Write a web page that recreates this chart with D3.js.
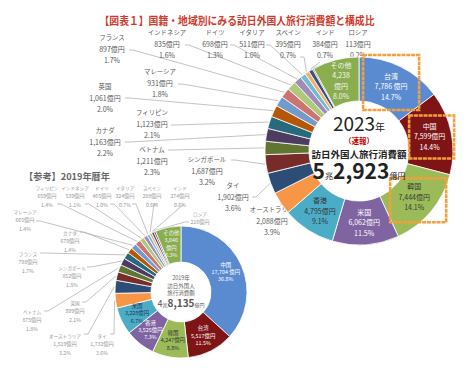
<!DOCTYPE html>
<html lang="ja">
<head>
<meta charset="UTF-8">
<title>国籍・地域別にみる訪日外国人旅行消費額と構成比</title>
<script src="https://cdn.jsdelivr.net/npm/d3@7"></script>
<style>
    body { margin: 0; background: #fff; }
    svg { display: block; font-family: "Noto Sans CJK JP", "Noto Sans", sans-serif; }
    .lead { fill: none; stroke: #a9a9a9; stroke-width: 0.7; }
    .slice { stroke: #fff; stroke-width: 0.8; }
</style>
</head>
<body>
<svg width="474" height="368"></svg>
<script>
// 2023年（速報）
var names2023 = ["台湾","中国","韓国","米国","香港","オーストラリア","タイ","シンガポール","ベトナム","カナダ","フィリピン","英国","マレーシア","フランス","インドネシア","ドイツ","イタリア","スペイン","インド","ロシア","その他"];
var values2023 = [7786,7599,7444,6062,4795,2088,1902,1687,1211,1163,1123,1061,931,897,835,698,511,395,384,113,4238];
var pct2023 = [14.7,14.4,14.1,11.5,9.1,3.9,3.6,3.2,2.3,2.2,2.1,2.0,1.8,1.7,1.6,1.3,1.0,0.7,0.7,0.2,8.0];
var total2023 = 52923;

// 2019年暦年
var names2019 = ["中国","台湾","韓国","香港","米国","タイ","オーストラリア","英国","ベトナム","シンガポール","フランス","カナダ","マレーシア","フィリピン","インドネシア","ドイツ","イタリア","スペイン","インド","ロシア","その他"];
var values2019 = [17704,5517,4247,3525,3228,1732,1519,999,875,852,798,670,665,659,539,465,324,288,274,216,3040];
var pct2019 = [36.8,11.5,8.8,7.3,6.7,3.6,3.2,2.1,1.8,1.8,1.7,1.4,1.4,1.4,1.1,1.0,0.7,0.6,0.6,0.5,6.3];
var total2019 = 48135;

var palette = ["#5a8ad0","#7e1416","#9bbb59","#8064a2","#4bacc6","#f79646","#2c4d75","#772c2a","#5f7530","#4d3b62","#276a7c","#b65708","#729aca","#cd7371","#afc97a","#a18cb8","#6fbdd1","#f9ab6b","#34557f","#9f3b38"];
var otherColor = "#8aae4e";

var svg = d3.select("svg");
var fmt = d3.format(",");

function donut(cfg) {
    var data = cfg.names.map(function(n, i) {
        return {name: n, value: cfg.values[i], pct: cfg.pct[i]};
    });
    var arcs = d3.pie().sort(null).value(function(d) { return d.value; })(data);
    var arc = d3.arc().innerRadius(cfg.r0).outerRadius(cfg.r1);
    var lblArc = d3.arc().innerRadius(cfg.rl).outerRadius(cfg.rl);
    var edge = d3.arc().innerRadius(cfg.r1 + 1).outerRadius(cfg.r1 + 1);
    var g = svg.append("g");

    // outside labels with leader lines (drawn first, ring goes on top)
    cfg.outside.forEach(function(p) {
        var a = arcs[p.i], e = edge.centroid(a);
        var ex = cfg.cx + e[0], ey = cfg.cy + e[1];
        var dir = ex > p.sx ? 1 : -1;
        g.append("polyline").attr("class", "lead")
            .attr("points", [[p.sx, p.sy], [p.sx + dir * (p.el == null ? 4 : p.el), p.sy], [ex, ey]].join(" "));
        var lines = [a.data.name, fmt(a.data.value) + "億円", a.data.pct.toFixed(1) + "%"];
        lines.forEach(function(s, k) {
            g.append("text")
                .attr("x", p.x).attr("y", p.y + k * cfg.gap)
                .attr("dy", "0.35em")
                .attr("text-anchor", "middle")
                .attr("font-size", k == 0 ? cfg.fs - 0.6 : cfg.fs)
                .attr("fill", cfg.lblColor)
                .text(s);
        });
    });

    var pg = g.append("g").attr("transform", "translate(" + cfg.cx + "," + cfg.cy + ")");
    pg.selectAll("path").data(arcs).enter().append("path")
        .attr("class", "slice")
        .attr("d", arc)
        .attr("fill", function(d) { return d.data.name == "その他" ? otherColor : palette[d.index]; });

    cfg.inside.forEach(function(p) {
        var a = arcs[p.i], c = lblArc.centroid(a);
        var v = fmt(a.data.value);
        var lines = a.data.name == "その他"
            ? [a.data.name, v, "億円", a.data.pct.toFixed(1) + "%"]
            : [a.data.name, v + (p.sp ? " 億円" : "億円"), a.data.pct.toFixed(1) + "%"];
        var off = (lines.length - 1) / 2;
        lines.forEach(function(s, k) {
            pg.append("text")
                .attr("x", c[0]).attr("y", c[1] + (k - off) * cfg.igap)
                .attr("dy", "0.35em")
                .attr("text-anchor", "middle")
                .attr("font-size", cfg.ifs)
                .attr("fill", p.fill)
                .text(s);
        });
    });

    (cfg.boxes || []).forEach(function(b) {
        var c = lblArc.centroid(arcs[b.i]);
        pg.append("rect")
            .attr("x", c[0] + b.dx - b.w / 2).attr("y", c[1] + b.dy - b.h / 2)
            .attr("width", b.w).attr("height", b.h)
            .attr("fill", "none").attr("stroke", "#f2a03d")
            .attr("stroke-width", 2.6).attr("stroke-dasharray", "4,0.8");
    });
    return pg;
}

// title
svg.append("text").attr("x", 237).attr("y", 25).attr("text-anchor", "middle")
    .attr("font-size", 11).attr("font-weight", "bold").attr("fill", "#cf3a2c")
    .attr("textLength", 275).attr("lengthAdjust", "spacingAndGlyphs")
    .text("【図表１】国籍・地域別にみる訪日外国人旅行消費額と構成比");

svg.append("text").attr("x", 67).attr("y", 180).attr("text-anchor", "middle")
    .attr("font-size", 9.5).attr("font-weight", "bold").attr("fill", "#666")
    .attr("textLength", 86).attr("lengthAdjust", "spacingAndGlyphs")
    .text("【参考】2019年暦年");

// 2019 donut
var small = donut({
    names: names2019, values: values2019, pct: pct2019,
    cx: 181, cy: 292, r0: 30, r1: 66, rl: 49,
    fs: 5.2, gap: 8.5, lblColor: "#959595", ifs: 5.4, igap: 7.3,
    outside: [
        {i: 5, x: 102, y: 336, sx: 110, sy: 334},
        {i: 6, x: 65, y: 336, sx: 84, sy: 334},
        {i: 7, x: 75, y: 303, sx: 82, sy: 302},
        {i: 8, x: 32, y: 312, sx: 44, sy: 311},
        {i: 9, x: 72, y: 268, sx: 87, sy: 267},
        {i: 10, x: 28, y: 254, sx: 40, sy: 253},
        {i: 11, x: 70, y: 233, sx: 80, sy: 232},
        {i: 12, x: 25, y: 212, sx: 36, sy: 221},
        {i: 13, x: 47, y: 188, sx: 57, sy: 204},
        {i: 14, x: 75, y: 188, sx: 85, sy: 204},
        {i: 15, x: 102, y: 188, sx: 110, sy: 204},
        {i: 16, x: 125, y: 188, sx: 132, sy: 204},
        {i: 17, x: 152, y: 188, sx: 158, sy: 204},
        {i: 18, x: 180, y: 188, sx: 184, sy: 204, el: 0},
        {i: 19, x: 200, y: 214, sx: 189, sy: 222}
    ],
    inside: [
        {i: 0, fill: "#fff", sp: true}, {i: 1, fill: "#fff"}, {i: 2, fill: "#333"},
        {i: 3, fill: "#fff"}, {i: 4, fill: "#1f3550"}, {i: 20, fill: "#f4f4f4"}
    ]
});

var t19 = small.append("g").attr("text-anchor", "middle").attr("fill", "#666");
t19.append("text").attr("y", -12).attr("font-size", 5.5).text("2019年");
t19.append("text").attr("y", -4.5).attr("font-size", 5.5).text("訪日外国人");
t19.append("text").attr("y", 3).attr("font-size", 5.5).text("旅行消費額");
var tt19 = t19.append("text").attr("y", 15).attr("fill", "#555");
tt19.append("tspan").attr("font-size", 9).text(Math.floor(total2019 / 10000));
tt19.append("tspan").attr("font-size", 5).text("兆");
tt19.append("tspan").attr("font-size", 10).attr("font-weight", "bold").text(fmt(total2019 % 10000));
tt19.append("tspan").attr("font-size", 5).text("億円");

// 2023 donut
var main = donut({
    names: names2023, values: values2023, pct: pct2023,
    cx: 359, cy: 151, r0: 50, r1: 94, rl: 72,
    fs: 7, gap: 11.5, lblColor: "#595959", ifs: 7, igap: 10.5,
    outside: [
        {i: 5, x: 272, y: 210, sx: 292, sy: 208},
        {i: 6, x: 233, y: 186, sx: 252, sy: 197},
        {i: 7, x: 207, y: 160, sx: 231, sy: 160},
        {i: 8, x: 152, y: 150, sx: 168, sy: 150},
        {i: 9, x: 105, y: 131, sx: 125, sy: 142},
        {i: 10, x: 152, y: 113, sx: 171, sy: 125},
        {i: 11, x: 105, y: 87, sx: 125, sy: 98},
        {i: 12, x: 160, y: 72, sx: 178, sy: 84},
        {i: 13, x: 112, y: 38, sx: 129, sy: 50},
        {i: 14, x: 167, y: 33, sx: 185, sy: 45},
        {i: 15, x: 215, y: 33, sx: 230, sy: 45},
        {i: 16, x: 252, y: 33, sx: 266, sy: 45},
        {i: 17, x: 288, y: 33, sx: 300, sy: 57},
        {i: 18, x: 325, y: 33, sx: 320, sy: 62, el: 0},
        {i: 19, x: 358, y: 33, sx: 346, sy: 58, el: 0}
    ],
    inside: [
        {i: 0, fill: "#fff", sp: true}, {i: 1, fill: "#fff"}, {i: 2, fill: "#3a3a3a"},
        {i: 3, fill: "#fff"}, {i: 4, fill: "#333"}, {i: 20, fill: "#f4f4f4"}
    ],
    boxes: [
        {i: 0, dx: 0, dy: -4, w: 56, h: 55},
        {i: 1, dx: 2, dy: 0, w: 45, h: 43},
        {i: 2, dx: 4, dy: 3, w: 56, h: 44}
    ]
});

var t23 = main.append("g").attr("text-anchor", "middle").attr("fill", "#222");
var yr = t23.append("text").attr("y", -20);
yr.append("tspan").attr("font-size", 19).text("2023");
yr.append("tspan").attr("font-size", 10).text("年");
t23.append("text").attr("y", -7).attr("font-size", 7.5).attr("font-weight", "bold")
    .attr("fill", "#c00000").text("（速報）");
t23.append("text").attr("y", 6.5).attr("font-size", 9.5).attr("font-weight", "bold").text("訪日外国人旅行消費額");
var tt23 = t23.append("text").attr("y", 27.5);
tt23.append("tspan").attr("font-size", 21).attr("font-weight", "bold").text(Math.floor(total2023 / 10000));
tt23.append("tspan").attr("font-size", 8).text("兆");
tt23.append("tspan").attr("font-size", 21).attr("font-weight", "bold").text(fmt(total2023 % 10000));
tt23.append("tspan").attr("font-size", 8).text("億円");
</script>
</body>
</html>
